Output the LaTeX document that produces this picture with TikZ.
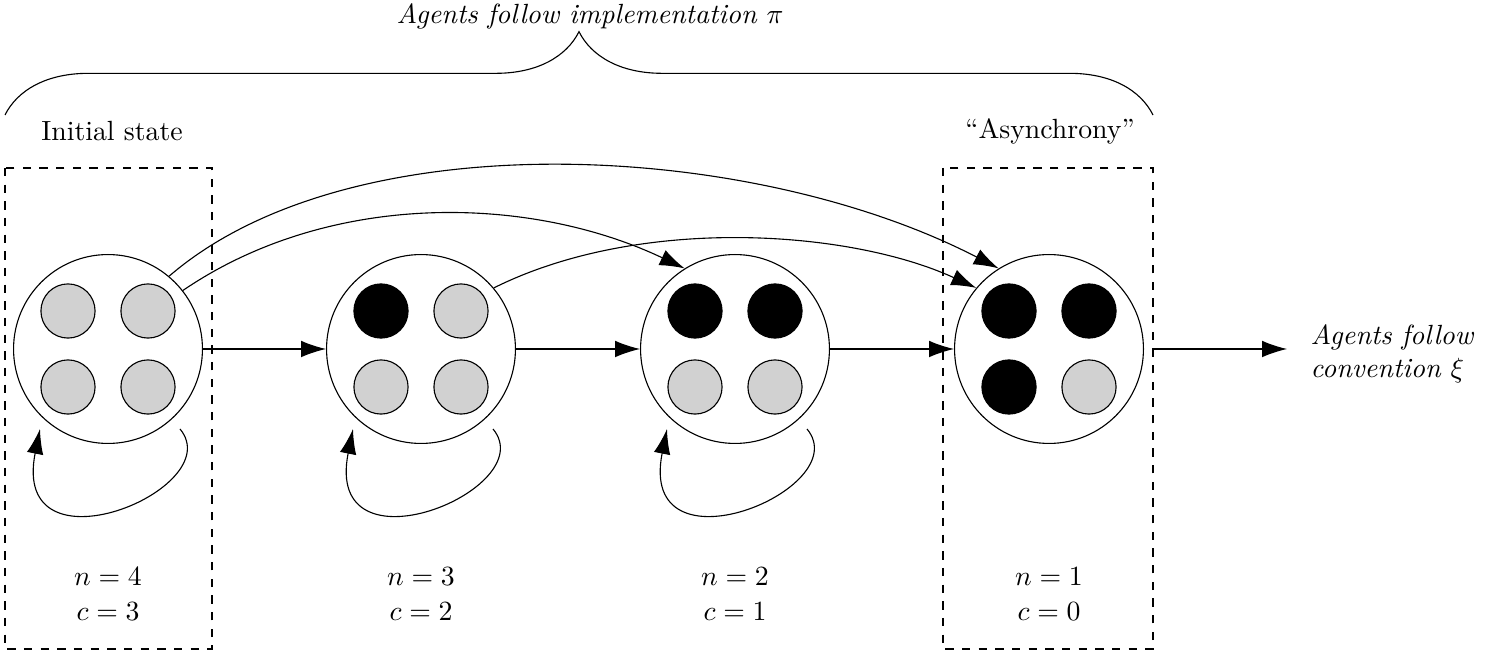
\documentclass[tikz,border=0pt]{standalone}
\usetikzlibrary{arrows.meta,decorations.pathreplacing}
\begin{document}
\begin{tikzpicture}[x=0.36pt,y=-0.36pt,
  big/.style={circle,draw,inner sep=0pt,minimum size=68pt},
  g/.style={circle,draw,fill=black!18,inner sep=0pt,minimum size=19.5pt},
  b/.style={circle,draw,fill=black,inner sep=0pt,minimum size=19.5pt},
  arr/.style={-{Latex[length=9pt,width=6pt]}},
  box/.style={draw,dashed}]
\useasboundingbox (0,0) rectangle (1488,652);
\draw[box] (5,168) rectangle (212,649);
\draw[box] (943,168) rectangle (1153,649);
\node at (112,131) {Initial state};
\node at (1050,131) {``Asynchrony''};
\draw[decorate,decoration={brace,amplitude=30pt}] (5,115) -- (1153,115);
\node at (590,16) {\itshape Agents follow implementation $\pi$};
\foreach \i/\x/\a/\bb/\c/\d/\n/\cc in {1/108/g/g/g/g/4/3,2/421/b/g/g/g/3/2,3/735/b/b/g/g/2/1,4/1049/b/b/b/g/1/0}{
  \node[big] (c\i) at (\x,349) {};
  \node[\a] (c\i tl) at (\x-40,311) {};
  \node[\bb] (c\i tr) at (\x+40,311) {};
  \node[\c] (c\i bl) at (\x-40,387) {};
  \node[\d] (c\i br) at (\x+40,387) {};
  \node (t\i) at (\x,577) {$n=\n$};
  \node (u\i) at (\x,612) {$c=\cc$};
}
\foreach \i in {1,2,3}{
  \coordinate (ls\i) at ([shift={(72,80)}]c\i.center);
  \coordinate (le\i) at ([shift={(-68,80)}]c\i.center);
  \draw[arr] (ls\i) .. controls +(50,60) and +(-30,150) .. (le\i);
}
\draw[arr] (c1) -- (c2);
\draw[arr] (c2) -- (c3);
\draw[arr] (c3) -- (c4);
\node[align=left,font=\itshape] (conv) at (1392,354) {Agents follow\\convention $\xi$};
\draw[arr] (c4.east)++(10,0) coordinate (o4) -- (1287,349) coordinate (o5);
\draw[arr] (c1.38) .. controls (330,190) and (530,195) .. (c3.122);
\draw[arr] (c1.50) .. controls (350,120) and (750,140) .. (c4.122);
\draw[arr] (c2.40) .. controls (640,215) and (850,230) .. (c4.140);
\end{tikzpicture}
\end{document}
